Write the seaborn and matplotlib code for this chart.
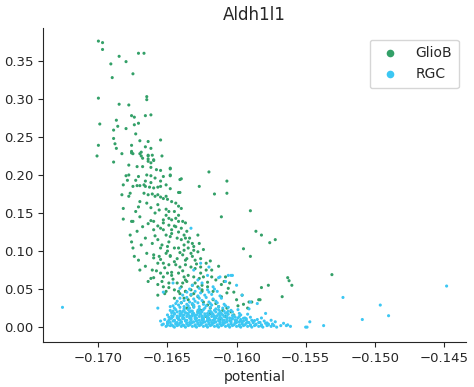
import matplotlib
matplotlib.use("Agg")
import matplotlib.pyplot as plt
import seaborn as sns
import pandas as pd
from matplotlib.lines import Line2D

title = "Aldh1l1"
x_label = "potential"
categories = ["GlioB", "RGC"]
palette_colors = ["#33a068", "#3cc7f3"]

glio_xy = [
    (-0.1700, 0.376), (-0.1697, 0.374), (-0.1697, 0.365), (-0.1685, 0.356), (-0.1671, 0.360),
    (-0.1667, 0.360), (-0.1691, 0.346), (-0.1680, 0.349), (-0.1690, 0.328), (-0.1675, 0.333),
    (-0.1700, 0.301), (-0.1665, 0.303), (-0.1665, 0.299), (-0.1685, 0.293), (-0.1678, 0.292),
    (-0.1676, 0.278), (-0.1674, 0.276), (-0.1666, 0.278), (-0.1662, 0.279), (-0.1687, 0.272),
    (-0.1699, 0.267), (-0.1686, 0.264), (-0.1674, 0.266), (-0.1671, 0.268), (-0.1680, 0.261),
    (-0.1689, 0.259), (-0.1673, 0.254),
    (-0.1700, 0.239), (-0.1701, 0.225), (-0.1689, 0.217), (-0.1689, 0.248), (-0.1688, 0.241),
    (-0.1687, 0.235), (-0.1676, 0.239), (-0.1676, 0.231), (-0.1675, 0.228), (-0.1669, 0.230),
    (-0.1669, 0.225), (-0.1666, 0.237), (-0.1664, 0.244), (-0.1662, 0.235), (-0.1670, 0.245),
    (-0.1655, 0.246), (-0.1654, 0.225), (-0.1664, 0.225), (-0.1661, 0.226), (-0.1664, 0.221),
    (-0.1660, 0.219), (-0.1662, 0.216),
    (-0.1620, 0.204), (-0.1607, 0.192), (-0.1616, 0.175), (-0.1607, 0.176), (-0.1590, 0.153),
    (-0.1611, 0.145), (-0.1586, 0.126), (-0.1582, 0.121), (-0.1572, 0.115), (-0.1576, 0.111),
    (-0.1595, 0.103), (-0.1590, 0.093), (-0.1531, 0.069), (-0.1563, 0.065), (-0.1562, 0.061),
    (-0.1560, 0.055), (-0.1582, 0.052), (-0.1577, 0.055), (-0.1567, 0.040), (-0.1583, 0.036),
    (-0.1627, 0.185), (-0.1641, 0.177), (-0.1648, 0.200), (-0.1640, 0.195), (-0.1648, 0.209),
    (-0.1682, 0.142), (-0.1675, 0.139), (-0.1675, 0.104), (-0.1671, 0.088), (-0.1666, 0.080),
    (-0.1657, 0.042), (-0.1652, 0.044), (-0.1653, 0.053), (-0.1662, 0.064),
    (-0.1683, 0.228), (-0.1678, 0.213), (-0.1680, 0.199), (-0.1682, 0.187), (-0.1683, 0.174),
    (-0.1682, 0.156), (-0.1675, 0.185),
    (-0.1676, 0.229), (-0.1670, 0.228), (-0.1664, 0.226), (-0.1668, 0.222), (-0.1660, 0.220),
    (-0.1664, 0.218), (-0.1672, 0.211), (-0.1668, 0.211), (-0.1662, 0.210), (-0.1658, 0.207),
    (-0.1655, 0.206), (-0.1648, 0.208), (-0.1678, 0.200), (-0.1671, 0.198), (-0.1665, 0.200),
    (-0.1662, 0.199), (-0.1659, 0.196), (-0.1653, 0.198), (-0.1648, 0.199), (-0.1679, 0.193),
    (-0.1673, 0.193), (-0.1666, 0.192), (-0.1662, 0.190), (-0.1655, 0.192), (-0.1641, 0.194),
    (-0.1672, 0.186), (-0.1670, 0.186), (-0.1667, 0.187), (-0.1666, 0.185), (-0.1663, 0.184),
    (-0.1660, 0.183), (-0.1657, 0.184), (-0.1655, 0.185), (-0.1651, 0.187), (-0.1648, 0.182),
    (-0.1642, 0.177), (-0.1677, 0.176), (-0.1667, 0.176), (-0.1664, 0.174), (-0.1661, 0.175),
    (-0.1659, 0.172), (-0.1657, 0.174), (-0.1655, 0.171), (-0.1653, 0.169), (-0.1651, 0.172),
    (-0.1650, 0.168), (-0.1647, 0.165), (-0.1644, 0.163), (-0.1642, 0.159), (-0.1678, 0.172),
    (-0.1670, 0.165), (-0.1665, 0.163), (-0.1671, 0.158), (-0.1662, 0.157), (-0.1657, 0.161),
    (-0.1656, 0.154), (-0.1659, 0.150), (-0.1651, 0.155), (-0.1649, 0.152), (-0.1645, 0.152),
    (-0.1642, 0.147), (-0.1640, 0.156), (-0.1651, 0.147), (-0.1649, 0.143), (-0.1647, 0.141),
    (-0.1653, 0.141), (-0.1644, 0.143), (-0.1642, 0.139), (-0.1639, 0.139), (-0.1637, 0.137),
    (-0.1676, 0.139), (-0.1670, 0.145), (-0.1662, 0.140), (-0.1673, 0.152),
    (-0.1664, 0.136), (-0.1660, 0.139), (-0.1655, 0.130), (-0.1653, 0.128), (-0.1649, 0.134),
    (-0.1647, 0.128), (-0.1644, 0.132), (-0.1642, 0.125), (-0.1638, 0.121), (-0.1651, 0.121),
    (-0.1648, 0.119), (-0.1643, 0.117), (-0.1640, 0.115), (-0.1637, 0.117), (-0.1635, 0.112),
    (-0.1632, 0.110), (-0.1657, 0.115), (-0.1661, 0.110), (-0.1654, 0.108), (-0.1650, 0.106),
    (-0.1645, 0.104), (-0.1642, 0.104), (-0.1638, 0.101), (-0.1635, 0.104), (-0.1631, 0.101),
    (-0.1628, 0.099), (-0.1665, 0.097), (-0.1660, 0.095), (-0.1656, 0.093), (-0.1651, 0.097),
    (-0.1648, 0.093), (-0.1643, 0.090), (-0.1639, 0.095), (-0.1636, 0.090), (-0.1632, 0.093),
    (-0.1630, 0.088), (-0.1626, 0.090), (-0.1622, 0.084), (-0.1657, 0.084), (-0.1653, 0.084),
    (-0.1649, 0.082), (-0.1644, 0.082), (-0.1641, 0.079), (-0.1637, 0.082), (-0.1633, 0.079),
    (-0.1630, 0.077), (-0.1626, 0.079), (-0.1622, 0.075), (-0.1618, 0.075), (-0.1661, 0.075),
    (-0.1655, 0.071), (-0.1650, 0.071), (-0.1647, 0.068), (-0.1642, 0.071), (-0.1638, 0.066),
    (-0.1635, 0.068), (-0.1631, 0.066), (-0.1627, 0.064), (-0.1624, 0.066), (-0.1654, 0.060),
    (-0.1649, 0.058), (-0.1643, 0.058), (-0.1639, 0.058), (-0.1636, 0.060), (-0.1632, 0.055),
    (-0.1628, 0.053), (-0.1625, 0.055), (-0.1621, 0.053), (-0.1651, 0.047), (-0.1645, 0.049),
    (-0.1642, 0.047), (-0.1637, 0.047), (-0.1633, 0.049),
    (-0.1668, 0.132), (-0.1672, 0.126), (-0.1660, 0.128), (-0.1657, 0.133), (-0.1653, 0.137),
    (-0.1645, 0.133), (-0.1640, 0.130), (-0.1636, 0.126), (-0.1647, 0.123), (-0.1659, 0.120),
    (-0.1666, 0.117), (-0.1677, 0.121), (-0.1669, 0.108), (-0.1676, 0.112), (-0.1634, 0.117),
    (-0.1628, 0.121), (-0.1631, 0.106), (-0.1627, 0.110), (-0.1638, 0.108), (-0.1649, 0.112),
    (-0.1655, 0.104), (-0.1641, 0.098), (-0.1650, 0.100), (-0.1633, 0.097), (-0.1624, 0.102),
    (-0.1637, 0.088), (-0.1645, 0.086), (-0.1655, 0.089), (-0.1660, 0.091), (-0.1648, 0.094),
    (-0.1629, 0.083), (-0.1619, 0.087), (-0.1613, 0.080), (-0.1652, 0.078), (-0.1658, 0.074),
    (-0.1647, 0.072), (-0.1639, 0.074), (-0.1626, 0.071), (-0.1618, 0.066), (-0.1621, 0.059),
    (-0.1646, 0.063), (-0.1653, 0.066), (-0.1637, 0.062), (-0.1615, 0.062), (-0.1611, 0.056),
    (-0.1605, 0.058), (-0.1630, 0.058), (-0.1640, 0.053), (-0.1649, 0.052), (-0.1625, 0.049),
    (-0.1617, 0.047), (-0.1607, 0.045), (-0.1660, 0.065), (-0.1670, 0.075), (-0.1674, 0.093),
    (-0.1664, 0.060), (-0.1657, 0.056),
    (-0.1641, 0.044), (-0.1637, 0.047), (-0.1633, 0.042), (-0.1631, 0.044), (-0.1628, 0.040),
    (-0.1625, 0.047), (-0.1638, 0.038), (-0.1635, 0.036), (-0.1624, 0.033), (-0.1621, 0.029),
    (-0.1619, 0.025), (-0.1615, 0.031), (-0.1613, 0.027), (-0.1610, 0.022), (-0.1607, 0.025),
    (-0.1604, 0.020), (-0.1602, 0.016), (-0.1608, 0.014), (-0.1612, 0.011), (-0.1619, 0.018),
    (-0.1626, 0.022), (-0.1631, 0.027), (-0.1596, 0.042), (-0.1591, 0.033), (-0.1584, 0.036),
    (-0.1599, 0.028), (-0.1640, 0.032), (-0.1645, 0.038), (-0.1632, 0.030), (-0.1628, 0.020),
    (-0.1622, 0.014), (-0.1636, 0.025), (-0.1617, 0.036), (-0.1611, 0.040), (-0.1600, 0.036),
    (-0.1595, 0.030), (-0.1592, 0.025), (-0.1589, 0.033), (-0.1602, 0.046), (-0.1606, 0.051),
    (-0.1609, 0.060), (-0.1608, 0.066),
]

rgc_xy = [
    # bottom carpet
    (-0.1651, 0.001), (-0.1648, 0.002), (-0.1645, 0.000), (-0.1643, 0.002), (-0.1640, 0.001),
    (-0.1637, 0.000), (-0.1635, 0.002), (-0.1632, 0.001), (-0.1629, 0.000), (-0.1627, 0.002),
    (-0.1624, 0.001), (-0.1621, 0.000), (-0.1619, 0.002), (-0.1616, 0.001), (-0.1613, 0.000),
    (-0.1611, 0.002), (-0.1608, 0.001), (-0.1605, 0.000), (-0.1603, 0.002), (-0.1600, 0.001),
    (-0.1597, 0.000), (-0.1595, 0.002), (-0.1592, 0.001), (-0.1589, 0.000), (-0.1587, 0.002),
    (-0.1584, 0.001), (-0.1581, 0.000), (-0.1578, 0.002), (-0.1575, 0.001), (-0.1571, 0.000),
    (-0.1650, 0.0025), (-0.1646, 0.0015), (-0.1642, 0.0030), (-0.1638, 0.0020), (-0.1634, 0.0030),
    (-0.1630, 0.0015), (-0.1626, 0.0030), (-0.1622, 0.0020), (-0.1618, 0.0030), (-0.1614, 0.0015),
    (-0.1610, 0.0030), (-0.1606, 0.0020), (-0.1602, 0.0030), (-0.1598, 0.0015), (-0.1594, 0.0030),
    (-0.1590, 0.0020), (-0.1586, 0.0030), (-0.1582, 0.0015), (-0.1577, 0.0030), (-0.1573, 0.0020),
    (-0.1653, 0.004), (-0.1650, 0.005), (-0.1647, 0.003), (-0.1644, 0.004), (-0.1641, 0.005),
    (-0.1639, 0.003), (-0.1636, 0.004), (-0.1633, 0.005), (-0.1630, 0.003), (-0.1628, 0.004),
    (-0.1625, 0.005), (-0.1622, 0.003), (-0.1620, 0.004), (-0.1617, 0.005), (-0.1614, 0.003),
    (-0.1612, 0.004), (-0.1609, 0.005), (-0.1606, 0.003), (-0.1604, 0.004), (-0.1601, 0.005),
    (-0.1598, 0.003), (-0.1596, 0.004), (-0.1593, 0.005), (-0.1590, 0.003), (-0.1586, 0.004),
    (-0.1582, 0.003), (-0.1579, 0.005), (-0.1574, 0.004),
    (-0.1648, 0.0060), (-0.1644, 0.0055), (-0.1640, 0.0065), (-0.1636, 0.0055), (-0.1632, 0.0062),
    (-0.1628, 0.0055), (-0.1624, 0.0065), (-0.1620, 0.0058), (-0.1616, 0.0062), (-0.1612, 0.0055),
    (-0.1608, 0.0065), (-0.1604, 0.0058), (-0.1600, 0.0062), (-0.1596, 0.0055), (-0.1592, 0.0065),
    (-0.1588, 0.0058), (-0.1583, 0.0062), (-0.1578, 0.0055),
    (-0.1650, 0.007), (-0.1646, 0.008), (-0.1643, 0.006), (-0.1640, 0.007), (-0.1637, 0.008),
    (-0.1634, 0.006), (-0.1631, 0.007), (-0.1629, 0.008), (-0.1626, 0.006), (-0.1623, 0.007),
    (-0.1621, 0.008), (-0.1618, 0.006), (-0.1615, 0.007), (-0.1612, 0.008), (-0.1610, 0.006),
    (-0.1607, 0.007), (-0.1604, 0.008), (-0.1601, 0.006), (-0.1598, 0.007), (-0.1595, 0.008),
    (-0.1591, 0.006), (-0.1588, 0.007), (-0.1584, 0.006), (-0.1580, 0.008),
    (-0.1649, 0.0090), (-0.1645, 0.0085), (-0.1641, 0.0092), (-0.1637, 0.0085), (-0.1633, 0.0090),
    (-0.1629, 0.0084), (-0.1625, 0.0092), (-0.1621, 0.0086), (-0.1617, 0.0090), (-0.1613, 0.0084),
    (-0.1609, 0.0092), (-0.1605, 0.0086), (-0.1601, 0.0090), (-0.1597, 0.0084), (-0.1593, 0.0092),
    (-0.1587, 0.0086),
    (-0.1652, 0.010), (-0.1648, 0.011), (-0.1645, 0.009), (-0.1642, 0.010), (-0.1639, 0.011),
    (-0.1636, 0.009), (-0.1633, 0.010), (-0.1630, 0.011), (-0.1627, 0.009), (-0.1624, 0.010),
    (-0.1621, 0.011), (-0.1619, 0.009), (-0.1616, 0.010), (-0.1613, 0.011), (-0.1610, 0.009),
    (-0.1607, 0.010), (-0.1603, 0.011), (-0.1600, 0.009), (-0.1597, 0.010), (-0.1593, 0.011),
    (-0.1589, 0.009), (-0.1585, 0.010),
    (-0.1647, 0.0118), (-0.1643, 0.0122), (-0.1638, 0.0115), (-0.1634, 0.0120), (-0.1629, 0.0116),
    (-0.1625, 0.0122), (-0.1620, 0.0115), (-0.1616, 0.0120), (-0.1611, 0.0116), (-0.1607, 0.0122),
    (-0.1603, 0.0115), (-0.1599, 0.0120), (-0.1595, 0.0116),
    (-0.1649, 0.013), (-0.1646, 0.014), (-0.1642, 0.012), (-0.1639, 0.013), (-0.1636, 0.014),
    (-0.1633, 0.012), (-0.1630, 0.013), (-0.1627, 0.014), (-0.1624, 0.012), (-0.1621, 0.013),
    (-0.1618, 0.014), (-0.1615, 0.012), (-0.1612, 0.013), (-0.1609, 0.014), (-0.1605, 0.012),
    (-0.1601, 0.013), (-0.1598, 0.014), (-0.1594, 0.012), (-0.1590, 0.013),
    (-0.1647, 0.0150), (-0.1643, 0.0145), (-0.1639, 0.0152), (-0.1634, 0.0146), (-0.1630, 0.0151),
    (-0.1625, 0.0145), (-0.1621, 0.0152), (-0.1616, 0.0146), (-0.1612, 0.0151), (-0.1607, 0.0145),
    (-0.1603, 0.0152),
    (-0.1650, 0.016), (-0.1645, 0.017), (-0.1641, 0.015), (-0.1638, 0.016), (-0.1635, 0.017),
    (-0.1632, 0.015), (-0.1629, 0.016), (-0.1626, 0.017), (-0.1623, 0.015), (-0.1620, 0.016),
    (-0.1617, 0.017), (-0.1614, 0.015), (-0.1610, 0.016), (-0.1606, 0.017), (-0.1602, 0.015),
    (-0.1597, 0.016), (-0.1592, 0.017),
    (-0.1645, 0.0180), (-0.1641, 0.0175), (-0.1636, 0.0182), (-0.1632, 0.0176), (-0.1627, 0.0181),
    (-0.1623, 0.0175), (-0.1618, 0.0182), (-0.1613, 0.0176), (-0.1608, 0.0181),
    (-0.1647, 0.019), (-0.1643, 0.020), (-0.1640, 0.018), (-0.1637, 0.019), (-0.1634, 0.020),
    (-0.1631, 0.018), (-0.1628, 0.019), (-0.1625, 0.020), (-0.1621, 0.018), (-0.1618, 0.019),
    (-0.1615, 0.020), (-0.1611, 0.018), (-0.1607, 0.019), (-0.1603, 0.020), (-0.1598, 0.018),
    (-0.1646, 0.0210), (-0.1639, 0.0205), (-0.1633, 0.0212), (-0.1626, 0.0206), (-0.1619, 0.0211),
    (-0.1612, 0.0205), (-0.1606, 0.0210),
    (-0.1648, 0.022), (-0.1644, 0.023), (-0.1641, 0.021), (-0.1638, 0.022), (-0.1635, 0.023),
    (-0.1632, 0.021), (-0.1628, 0.022), (-0.1624, 0.023), (-0.1620, 0.021), (-0.1616, 0.022),
    (-0.1613, 0.023), (-0.1609, 0.021), (-0.1604, 0.022), (-0.1599, 0.023),
    (-0.1645, 0.025), (-0.1641, 0.026), (-0.1638, 0.024), (-0.1634, 0.025), (-0.1631, 0.026),
    (-0.1627, 0.024), (-0.1623, 0.025), (-0.1619, 0.026), (-0.1615, 0.024), (-0.1610, 0.025),
    (-0.1606, 0.026),
    (-0.1646, 0.028), (-0.1642, 0.029), (-0.1638, 0.027), (-0.1635, 0.028), (-0.1631, 0.029),
    (-0.1627, 0.027), (-0.1622, 0.028), (-0.1618, 0.029), (-0.1613, 0.027), (-0.1608, 0.028),
    (-0.1644, 0.031), (-0.1640, 0.032), (-0.1636, 0.030), (-0.1632, 0.031), (-0.1628, 0.032),
    (-0.1624, 0.030), (-0.1619, 0.031), (-0.1614, 0.032), (-0.1609, 0.030),
    (-0.1643, 0.034), (-0.1638, 0.035), (-0.1634, 0.033), (-0.1630, 0.034), (-0.1625, 0.035),
    (-0.1620, 0.033), (-0.1615, 0.034),
    (-0.1641, 0.038), (-0.1636, 0.039), (-0.1631, 0.037), (-0.1627, 0.038), (-0.1622, 0.039),
    (-0.1617, 0.037), (-0.1611, 0.038),
    (-0.1639, 0.042), (-0.1633, 0.043), (-0.1628, 0.041), (-0.1623, 0.042), (-0.1618, 0.043),
    (-0.1612, 0.041),
    (-0.1636, 0.046), (-0.1630, 0.047), (-0.1626, 0.045), (-0.1620, 0.046), (-0.1614, 0.047),
    (-0.1634, 0.050), (-0.1627, 0.051), (-0.1621, 0.049), (-0.1616, 0.050),
    # sparse surroundings
    (-0.1632, 0.055), (-0.1625, 0.058), (-0.1617, 0.053), (-0.1628, 0.062), (-0.1604, 0.068),
    (-0.1603, 0.068), (-0.1613, 0.065), (-0.1608, 0.060), (-0.1600, 0.055),
    (-0.1633, 0.130), (-0.1626, 0.084), (-0.1620, 0.079), (-0.1621, 0.068), (-0.1631, 0.075),
    (-0.1612, 0.066), (-0.1606, 0.068), (-0.1646, 0.058), (-0.1641, 0.051), (-0.1653, 0.046),
    (-0.1648, 0.027), (-0.1657, 0.025), (-0.1655, 0.008), (-0.1654, 0.003),
    (-0.1596, 0.042), (-0.1590, 0.033), (-0.1585, 0.031), (-0.1579, 0.018), (-0.1575, 0.009),
    (-0.1572, 0.007), (-0.1563, 0.003), (-0.1561, 0.001), (-0.1591, 0.024), (-0.1582, 0.012),
    (-0.1577, 0.004), (-0.1568, 0.002), (-0.1566, 0.005),
    (-0.1448, 0.054), (-0.1523, 0.039), (-0.1496, 0.029), (-0.1490, 0.015), (-0.1509, 0.010),
    (-0.1537, 0.002), (-0.1547, 0.007), (-0.1550, 0.000), (-0.1549, 0.000), (-0.1564, 0.002),
    (-0.1726, 0.026),
]

x_ticks = [-0.170, -0.165, -0.160, -0.155, -0.150, -0.145]
y_ticks = [0.00, 0.05, 0.10, 0.15, 0.20, 0.25, 0.30, 0.35]

sns.set_style("ticks")
plt.rcParams["font.family"] = ["DejaVu Sans"]

glio_df = pd.DataFrame(glio_xy, columns=["x", "y"]).assign(cell=categories[0])
rgc_df = pd.DataFrame(rgc_xy, columns=["x", "y"]).assign(cell=categories[1])
# green first, blue cloud drawn over it
df = pd.concat([glio_df, rgc_df], ignore_index=True)

fig = plt.figure(figsize=(4.74, 3.87), dpi=100)
ax = fig.add_axes([0.091, 0.116, 0.892, 0.812])
pal = dict(zip(categories, palette_colors))
sns.scatterplot(data=df, x="x", y="y", hue="cell", hue_order=categories,
                palette=pal, s=5, linewidth=0, ax=ax, legend=False)

ax.set_xlim(-0.1740, -0.1434)
ax.set_ylim(-0.0197, 0.3934)
ax.set_xticks(x_ticks)
ax.set_xticklabels([f"{t:.3f}".replace("-", "\u2212") for t in x_ticks])
ax.set_yticks(y_ticks)
ax.set_yticklabels([f"{t:.2f}" for t in y_ticks])
ax.tick_params(labelsize=9.5)
ax.set_xlabel(x_label, fontsize=10)
ax.set_ylabel("")
ax.set_title(title, fontsize=12)
sns.despine(ax=ax)

handles = [Line2D([], [], marker="o", linestyle="", markersize=5.5,
                  markerfacecolor=c, markeredgewidth=0) for c in palette_colors]
ax.legend(handles, categories, loc="upper right", bbox_to_anchor=(1.0, 0.985),
          fontsize=10, frameon=True, handletextpad=0.8, borderpad=0.5)

fig.savefig("out.png", dpi=100)
